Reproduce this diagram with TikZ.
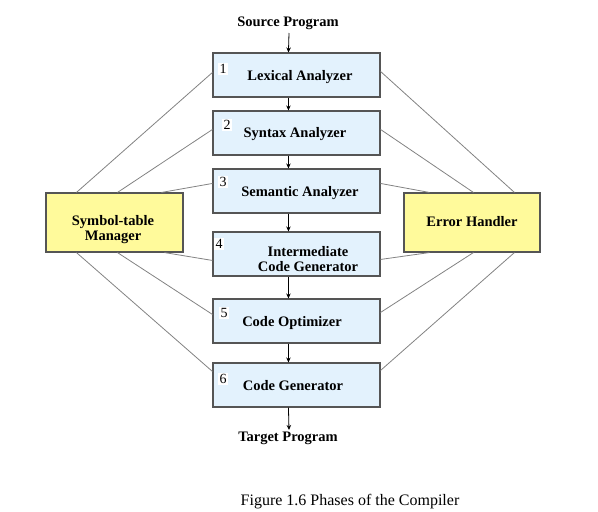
\documentclass[tikz,border=0pt]{standalone}
\usepackage{fontspec}
\setmainfont{Liberation Serif}
\usetikzlibrary{calc,arrows.meta}
\definecolor{phasefill}{RGB}{227,242,253}
\definecolor{mgrfill}{RGB}{255,250,155}
\definecolor{edgegray}{RGB}{85,85,85}
\definecolor{linkgray}{RGB}{130,130,130}
\tikzset{
  phase/.style={draw=edgegray, line width=1.1pt, fill=phasefill, minimum width=167pt, minimum height=44pt, inner sep=0pt},
  mgr/.style={draw=edgegray, line width=1.1pt, fill=mgrfill, minimum height=59pt, inner sep=0pt},
  lbl/.style={font=\fontsize{14.5}{16}\selectfont\bfseries, align=center, inner sep=0pt},
  num/.style={font=\fontsize{14}{15}\selectfont, fill=white, inner sep=1.5pt},
  link/.style={draw=linkgray, line width=0.8pt},
  flow/.style={draw=black, line width=0.8pt, -{Stealth[length=5pt,width=4.5pt]}}
}
\begin{document}
\begin{tikzpicture}[x=1pt,y=-1pt]
\useasboundingbox (0,0) rectangle (598,512);
% phase boxes
\node[phase] (p1) at (296.5,75) {};
\node[phase] (p2) at (296.5,133) {};
\node[phase] (p3) at (296.5,191) {};
\node[phase] (p4) at (296.5,254) {};
\node[phase] (p5) at (296.5,321) {};
\node[phase] (p6) at (296.5,385) {};
% managers
\node[mgr, minimum width=137pt] (sym) at (114.5,222.5) {};
\node[mgr, minimum width=136pt] (err) at (472,222.5) {};
% texts
\node[lbl] (src) at (288,23) {Source Program};
\node[lbl] (tgt) at (288,438) {Target Program};
\node[lbl] (t1) at (300,77) {Lexical Analyzer};
\node[lbl] (t2) at (295,134) {Syntax Analyzer};
\node[lbl] (t3) at (300,193) {Semantic Analyzer};
\node[lbl] (t4) at (308,259) {Intermediate\\[-1pt]Code Generator};
\node[lbl] (t5) at (292,323) {Code Optimizer};
\node[lbl] (t6) at (293,386) {Code Generator};
\node[lbl] (ts) at (113,230) {Symbol-table\\[-1pt]Manager};
\node[lbl] (te) at (472,222) {Error Handler};
% numbers
\node[num] (n1) at (223,69) {1};
\node[num] (n2) at (227,125) {2};
\node[num] (n3) at (223,182) {3};
\node[num] (n4) at (219,244) {4};
\node[num] (n5) at (224,313) {5};
\node[num] (n6) at (223,379) {6};
% flow arrow end points
\coordinate (a0) at (289,33);
\coordinate (a7) at (289,430);
\draw[flow] (a0) -- ($(p1.north west)+(76,0)$);
\draw[flow] ($(p1.south west)+(76,0)$) -- ($(p2.north west)+(76,0)$);
\draw[flow] ($(p2.south west)+(76,0)$) -- ($(p3.north west)+(76,0)$);
\draw[flow] ($(p3.south west)+(76,0)$) -- ($(p4.north west)+(76,0)$);
\draw[flow] ($(p4.south west)+(76,0)$) -- ($(p5.north west)+(76,0)$);
\draw[flow] ($(p5.south west)+(76,0)$) -- ($(p6.north west)+(76,0)$);
\draw[flow] ($(p6.south west)+(76,0)$) -- (a7);
% links symbol table
\draw[link] ($(sym.north west)+(31,0)$) -- ($(p1.north west)+(0,20)$);
\draw[link] ($(sym.north west)+(72,0)$) -- ($(p2.north west)+(0,19)$);
\draw[link] ($(sym.north west)+(116,0)$) -- ($(p3.north west)+(0,15)$);
\draw[link] ($(sym.south west)+(119,0)$) -- ($(p4.north west)+(0,29)$);
\draw[link] ($(sym.south west)+(72,0)$) -- ($(p5.north west)+(0,16)$);
\draw[link] ($(sym.south west)+(31,0)$) -- ($(p6.north west)+(0,9)$);
% links error handler
\draw[link] ($(err.north west)+(111,0)$) -- ($(p1.north east)+(0,19)$);
\draw[link] ($(err.north west)+(70,0)$) -- ($(p2.north east)+(0,19)$);
\draw[link] ($(err.north west)+(26,0)$) -- ($(p3.north east)+(0,15)$);
\draw[link] ($(err.south west)+(26,0)$) -- ($(p4.north east)+(0,28)$);
\draw[link] ($(err.south west)+(70,0)$) -- ($(p5.north east)+(0,14)$);
\draw[link] ($(err.south west)+(111,0)$) -- ($(p6.north east)+(0,8)$);
% caption
\node[font=\fontsize{16}{18}\selectfont, inner sep=0pt] (cap) at (350,502) {Figure 1.6 Phases of the Compiler};
\end{tikzpicture}
\end{document}
